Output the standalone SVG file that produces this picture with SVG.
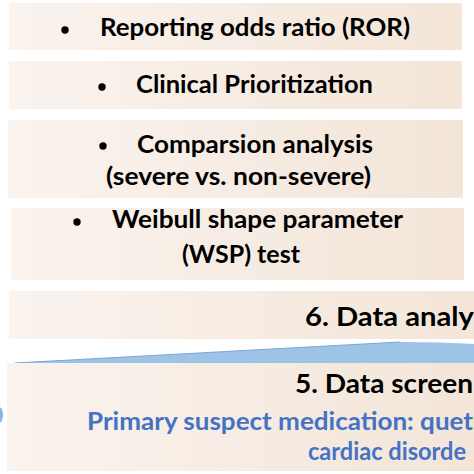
<svg xmlns="http://www.w3.org/2000/svg" width="474" height="474" viewBox="0 0 474 474">
<defs>
<linearGradient id="bg" x1="0" y1="0" x2="1" y2="0">
<stop offset="0" stop-color="#faf3ee"/>
<stop offset="1" stop-color="#f3e5d8"/>
</linearGradient>
<style>
.box{fill:url(#bg);}
.t{font-family:Lato,"Liberation Sans",sans-serif;font-weight:bold;font-size:25.5px;fill:#000;}
.h{font-size:27px;}
.b{fill:#4472c4;}
.dot{fill:#000;}
</style>
</defs>
<rect width="474" height="474" fill="#ffffff"/>
<g id="connectors">
<path d="M15,363 L400,342 Q440,342 474,344 L474,363 Z" fill="#9dc3e6"/>
<path d="M15,363 L400,342" stroke="#7aa6d8" stroke-width="1" fill="none"/>
<ellipse cx="-1" cy="415" rx="4" ry="8" fill="#8db3e2"/>
</g>
<g id="node-ror">
<rect class="box" x="9" y="3" width="453" height="47"/>
<circle class="dot" cx="65" cy="30" r="3.7"/>
<text class="t" x="100" y="36" textLength="310" lengthAdjust="spacingAndGlyphs">Reporting odds ratio (ROR)</text>
</g>
<g id="node-clinical">
<rect class="box" x="9" y="61" width="453" height="48"/>
<circle class="dot" cx="102" cy="87" r="3.7"/>
<text class="t" x="136" y="93" textLength="237" lengthAdjust="spacingAndGlyphs">Clinical Prioritization</text>
</g>
<g id="node-comparison">
<rect class="box" x="8" y="120" width="455" height="78"/>
<circle class="dot" cx="103" cy="146" r="3.7"/>
<text class="t" x="137" y="153" textLength="236" lengthAdjust="spacingAndGlyphs">Comparsion analysis</text>
<text class="t" x="106" y="185" textLength="265" lengthAdjust="spacingAndGlyphs">(severe vs. non-severe)</text>
</g>
<g id="node-wsp">
<rect class="box" x="11" y="208" width="453" height="72"/>
<circle class="dot" cx="77" cy="222" r="3.7"/>
<text class="t" x="112" y="228" textLength="291" lengthAdjust="spacingAndGlyphs">Weibull shape parameter</text>
<text class="t" x="182" y="263" textLength="118" lengthAdjust="spacingAndGlyphs">(WSP) test</text>
</g>
<g id="node-analysis">
<rect class="box" x="9" y="291" width="470" height="48"/>
<text class="t h" x="305" y="326" textLength="169" lengthAdjust="spacingAndGlyphs">6. Data analy</text>
</g>
<g id="node-screening">
<rect class="box" x="7" y="363" width="470" height="108"/>
<text class="t h" x="295" y="393" textLength="178" lengthAdjust="spacingAndGlyphs">5. Data screen</text>
<text class="t b" x="87" y="430" textLength="386" lengthAdjust="spacingAndGlyphs">Primary suspect medication: quet</text>
<text class="t b" x="308" y="460" textLength="158" lengthAdjust="spacingAndGlyphs">cardiac disorde</text>
</g>
</svg>
